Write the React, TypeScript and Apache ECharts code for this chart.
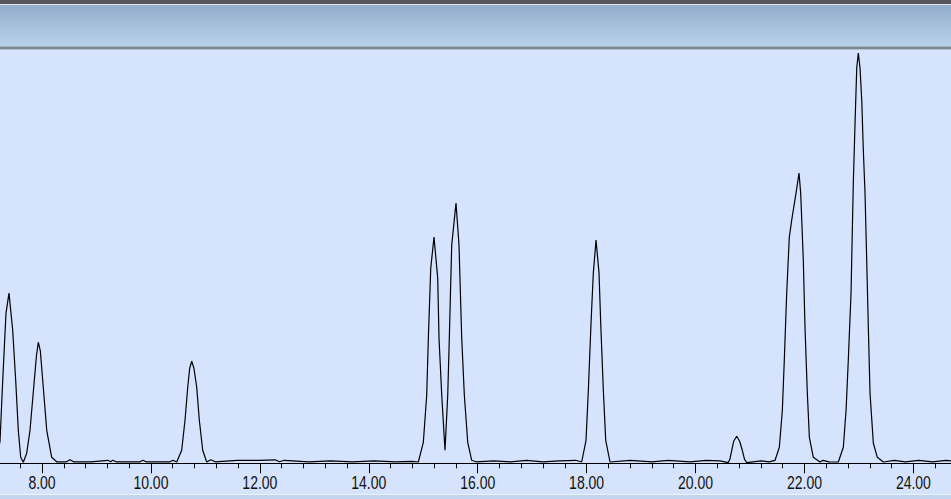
import React, { useEffect, useRef } from "react";
import * as echarts from "echarts";

// Retention time (min) of each sampled point of the detector trace
const traceTime: number[] = [
  7.18, 7.229, 7.279, 7.339, 7.394, 7.462, 7.517, 7.565, 7.609, 7.657,
  7.719, 7.78, 7.859, 7.899, 7.932, 7.97, 8.013, 8.087, 8.178, 8.27,
  8.45, 8.514, 8.58, 8.9, 9.21, 9.26, 9.3, 9.36, 9.8, 9.855, 9.91, 10.35, 10.405,
  10.474, 10.565, 10.626, 10.676, 10.712, 10.749, 10.79, 10.841, 10.889, 10.951, 11.024,
  11.1, 11.18, 11.58, 11.985, 12.28, 12.36, 12.45, 12.9, 13.3, 13.7, 14.1, 14.5, 14.8,
  14.91, 15.002, 15.064, 15.094, 15.138, 15.198, 15.266, 15.29, 15.34, 15.4,
  15.45, 15.479, 15.523, 15.602, 15.657, 15.707, 15.755, 15.817, 15.89, 15.97,
  16.3, 16.6, 16.9, 17.2, 17.5, 17.8,
  17.91, 17.989, 18.032, 18.081, 18.123, 18.173, 18.228, 18.259, 18.307, 18.351, 18.43,
  18.8, 19.2, 19.5, 19.9, 20.2, 20.45,
  20.602, 20.63, 20.665, 20.7, 20.756, 20.81, 20.859, 20.9, 20.94,
  21.2, 21.35,
  21.46, 21.539, 21.594, 21.63, 21.674, 21.722, 21.766, 21.845, 21.9, 21.931,
  21.979, 22.01, 22.053, 22.09, 22.163, 22.286,
  22.34, 22.45,
  22.622, 22.714, 22.764, 22.805, 22.855, 22.897, 22.929, 22.96, 22.989, 23.02,
  23.052, 23.081, 23.112, 23.143, 23.173, 23.204, 23.265, 23.338, 23.449,
  23.65, 23.85, 24.1, 24.35, 24.6, 24.75,
];

// Detector response at each of those times (relative units)
const traceResponse: number[] = [
  8, 22, 83, 150, 170, 133, 83, 33, 6, 1,
  10, 33, 83, 108, 121, 112, 83, 33, 6, 1.5,
  1.5, 3.5, 1.5, 1.5, 3, 1.5, 3, 1.5, 1.5, 3, 1.5, 1.5, 3,
  1.3, 13, 43, 76, 95, 102, 95, 76, 43, 13, 1.3,
  3.5, 1.5, 3, 3, 3.5, 1.5, 3, 1.5, 2.5, 1.5, 2.5, 1.5, 2,
  1.3, 21, 68, 125, 195, 226, 185, 125, 68, 13,
  68, 125, 218, 260, 218, 125, 68, 21, 3, 1.5,
  2.5, 1.5, 3, 1.5, 2.5, 3,
  1.3, 23, 73, 140, 190, 223, 190, 140, 73, 23, 1.3,
  3, 1.5, 3, 1.5, 3, 2.5,
  0.7, 4, 13, 22, 27, 22, 13, 4, 0.7,
  2.5, 1.5,
  3, 16, 53, 103, 170, 226, 243, 270, 290, 270,
  203, 136, 70, 26, 6, 1.3,
  3, 1.5,
  1.3, 16, 53, 103, 170, 280, 340, 395, 410, 395,
  363, 313, 270, 203, 136, 70, 20, 6, 1.3,
  3, 1.5, 3, 1.5, 3, 2,
];

// Time axis: labelled every 2 min, minor ticks every 0.4 min
const axisMin = 6;
const axisMax = 26;
const majorStep = 2;
const minorDivisions = 5;
const responseMax = 414;
const tickLabels: number[] = [8, 10, 12, 14, 16, 18, 20, 22, 24];

export default function App() {
  const ref = useRef<HTMLDivElement>(null);

  useEffect(() => {
    if (!ref.current) return;
    const chart = echarts.init(ref.current, undefined, { renderer: "svg" });
    const data = traceTime.map((t, i) => [t, traceResponse[i]]);
    const frame = [
      { type: "rect", shape: { x: 0, y: 0, width: 951, height: 4 }, style: { fill: "#56575c" }, z: 100 },
      { type: "rect", shape: { x: 0, y: 4, width: 951, height: 1 }, style: { fill: "#dfe6ee" }, z: 100 },
      {
        type: "rect",
        shape: { x: 0, y: 5, width: 951, height: 41 },
        style: {
          fill: new echarts.graphic.LinearGradient(0, 0, 0, 1, [
            { offset: 0, color: "#93aecb" },
            { offset: 1, color: "#b9d0ea" },
          ]),
        },
        z: 100,
      },
      { type: "rect", shape: { x: 0, y: 46, width: 951, height: 1 }, style: { fill: "#a9b6c3" }, z: 100 },
      { type: "rect", shape: { x: 0, y: 47, width: 951, height: 2 }, style: { fill: "#7c8791" }, z: 100 },
      { type: "rect", shape: { x: 0, y: 49, width: 951, height: 1 }, style: { fill: "#b4c3d4" }, z: 100 },
      { type: "rect", shape: { x: 0, y: 494, width: 951, height: 1 }, style: { fill: "#eef3fa" }, z: 100 },
      { type: "rect", shape: { x: 0, y: 495, width: 951, height: 4 }, style: { fill: "#c2d5ef" }, z: 100 },
    ];
    chart.setOption({
      animation: false,
      backgroundColor: "#d5e3fc",
      grid: { left: -66.93, right: -71.3, top: 49, bottom: 35.7, outerBoundsMode: "none", containLabel: false },
      xAxis: {
        type: "value",
        min: axisMin,
        max: axisMax,
        interval: majorStep,
        axisLine: { show: true, lineStyle: { color: "#000", width: 1 } },
        axisTick: { show: true, length: 10, lineStyle: { color: "#000", width: 1 } },
        minorTick: {
          show: true,
          splitNumber: minorDivisions,
          length: 5,
          lineStyle: { color: "#000", width: 1 },
        },
        splitLine: { show: false },
        minorSplitLine: { show: false },
        axisLabel: { show: false },
      },
      yAxis: {
        type: "value",
        min: 0,
        max: responseMax,
        show: false,
        splitLine: { show: false },
      },
      graphic: frame,
      series: [
        {
          type: "line",
          data,
          showSymbol: false,
          symbol: "none",
          smooth: false,
          clip: true,
          lineStyle: { color: "#000", width: 1.2 },
        },
      ],
    });
    // Narrow tick labels placed at the axis scale positions
    const labels = tickLabels.map((v) => {
      const px = chart.convertToPixel({ xAxisIndex: 0 }, v) as number;
      return {
        type: "text",
        x: px,
        y: 483,
        scaleX: 0.8,
        z: 50,
        style: {
          text: v.toFixed(2),
          fill: "#111",
          fontSize: 17.5,
          fontFamily: "'Liberation Sans', Arial, sans-serif",
          align: "center",
          verticalAlign: "middle",
        },
      };
    });
    chart.setOption({ graphic: [...frame, ...labels] });
    return () => chart.dispose();
  }, []);

  return (
    <div
      ref={ref}
      style={{ position: "fixed", left: 0, top: 0, width: 951, height: 499, background: "#d5e3fc" }}
    />
  );
}
